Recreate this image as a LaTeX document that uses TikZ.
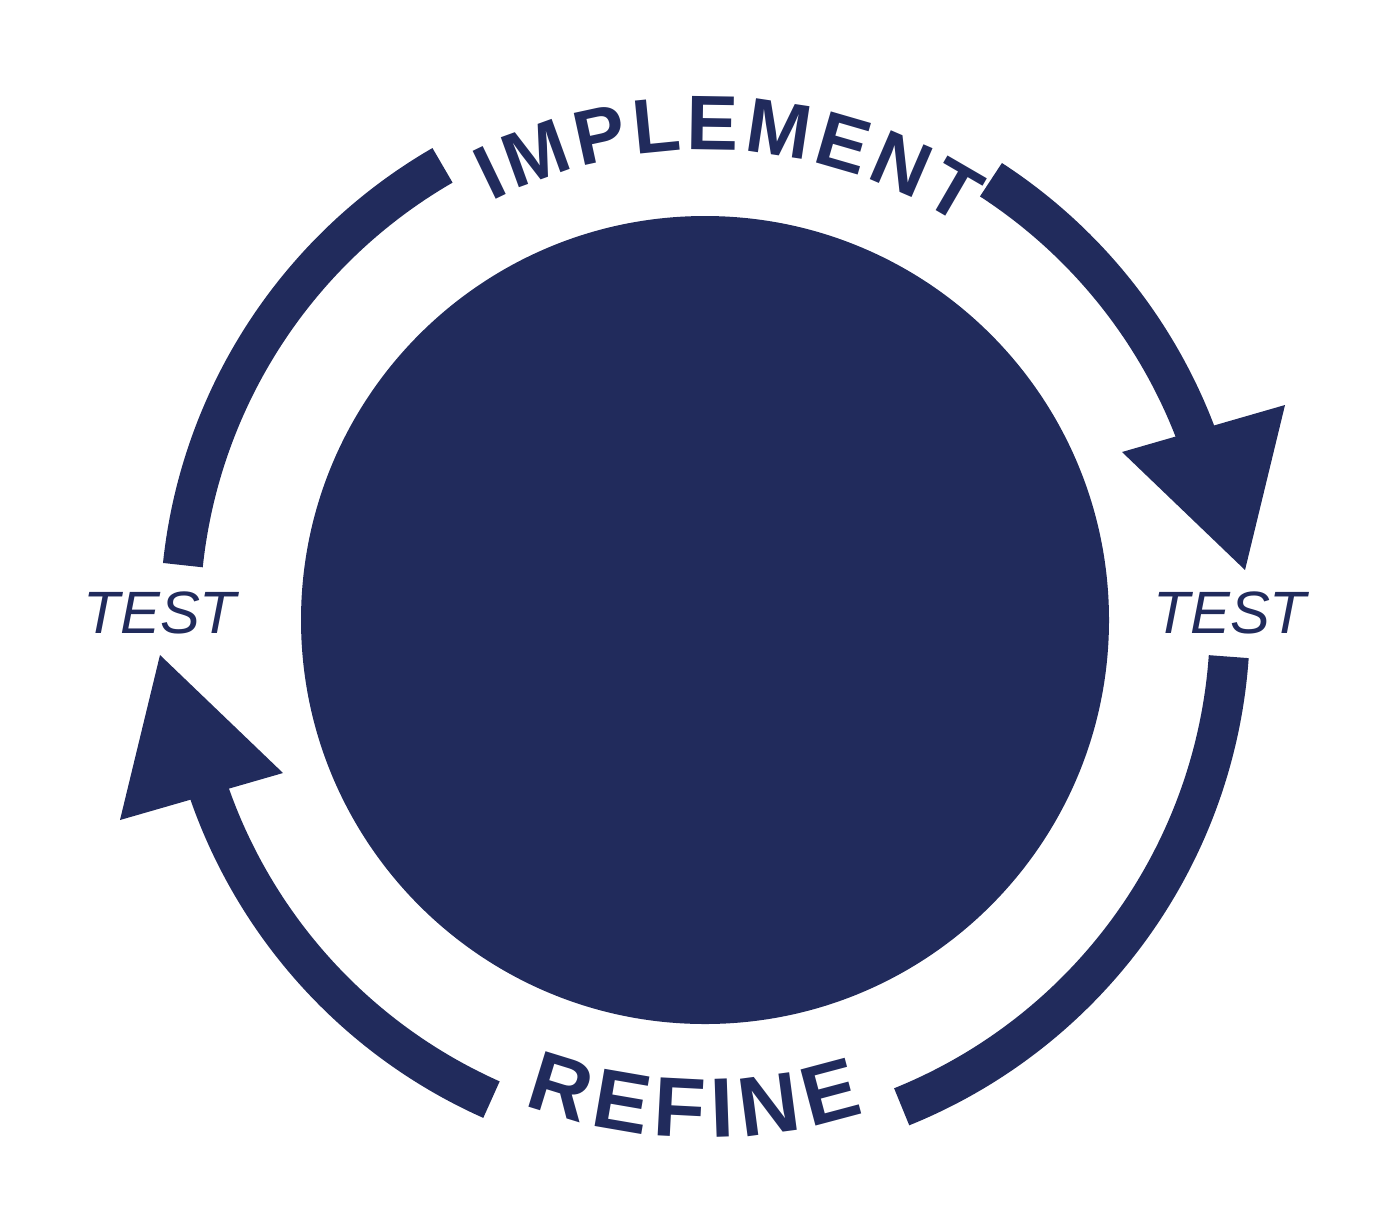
\documentclass[tikz,border=0pt]{standalone}
\usepackage{fontspec}
\setmainfont{Liberation Sans}
\usetikzlibrary{decorations.text}
\definecolor{navy}{HTML}{212B5C}
\begin{document}
\begin{tikzpicture}
\useasboundingbox (0,0) rectangle (27.78,-24.44);
\tikzset{ring/.style={draw=navy,line width=0.8cm},
  head/.style={fill=navy},
  bigtxt/.style 2 args={decorate,decoration={text along path,text align=fit to path,text color=navy,text={|\fontsize{#2}{#2}\selectfont\bfseries|#1}}},
  testtxt/.style={text=navy,font=\fontsize{34}{34}\selectfont\itshape}}
\coordinate (c) at (14.1,-12.4);
\fill[navy] (c) circle (8.08);
% top arc
\draw[ring] (c) ++(174:10.5) arc[start angle=174,end angle=120,radius=10.5];
\draw[ring] (c) ++(57:10.5) arc[start angle=57,end angle=19,radius=10.5];
\fill[head] (22.44,-9.04) -- (25.7,-8.1) -- (24.9,-11.4) -- cycle;
% bottom arc
\draw[ring] (c) ++(-4:10.5) arc[start angle=-4,end angle=-68,radius=10.5];
\draw[ring] (c) ++(-114:10.5) arc[start angle=-114,end angle=-161,radius=10.5];
\fill[head] (5.66,-15.46) -- (2.4,-16.4) -- (3.2,-13.1) -- cycle;
% texts
\path[bigtxt={IMPLEMENT}{44}] (c) ++(117:9.4) arc[start angle=117,end angle=57,radius=9.4];
\path[bigtxt={REFINE}{48}] (c) ++(-110.5:10.35) arc[start angle=-110.5,end angle=-72,radius=10.35];
\node[testtxt] (tl) at (3.2,-12.25) {TEST};
\node[testtxt] (tr) at (24.6,-12.25) {TEST};
\end{tikzpicture}
\end{document}
